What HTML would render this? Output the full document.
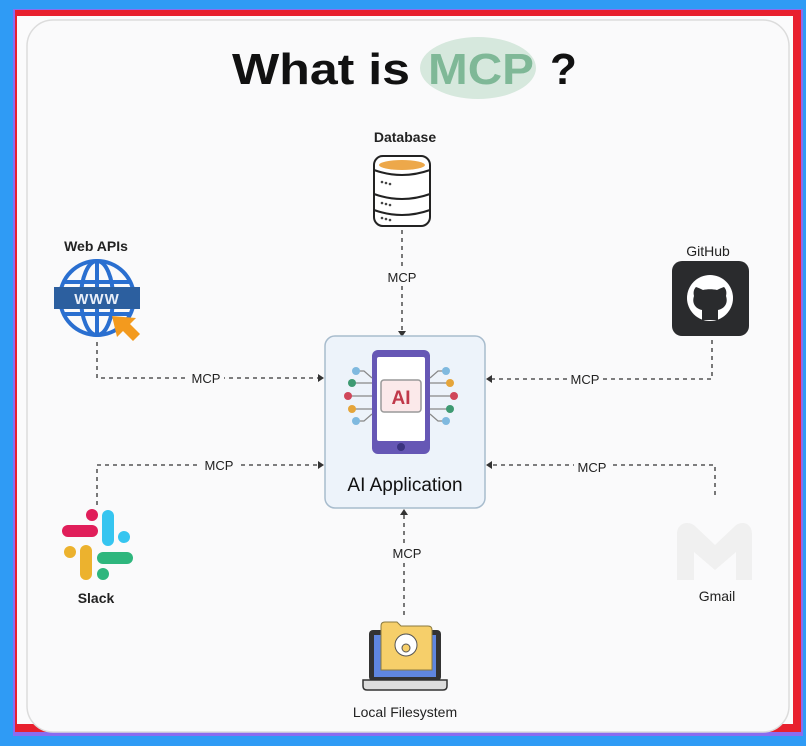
<!DOCTYPE html>
<html><head><meta charset="utf-8"><style>
html,body{margin:0;padding:0;width:806px;height:746px;overflow:hidden;background:#2f9bf5}
svg{display:block}
text{font-family:"Comic Sans MS","Liberation Sans",sans-serif}
</style></head><body>
<svg width="806" height="746" viewBox="0 0 806 746" xmlns="http://www.w3.org/2000/svg">
<rect x="0" y="0" width="806" height="746" fill="#2f9bf5"/>
<rect x="13" y="9" width="790" height="727" fill="#8a6cf0"/>
<rect x="15" y="10" width="786" height="722" fill="#e8202e"/>
<rect x="17" y="16" width="776" height="708" fill="#fbfbfc"/>
<rect x="27" y="20" width="762" height="712" rx="26" fill="#fafafb" stroke="#dcdcdc" stroke-width="1.5"/>
<!-- title -->
<ellipse cx="478" cy="68" rx="58" ry="31" fill="#d6e8dd"/>
<text x="232" y="84" font-size="44" font-weight="bold" fill="#111" textLength="178" lengthAdjust="spacingAndGlyphs">What is</text>
<text x="428" y="84" font-size="44" font-weight="bold" fill="#7fb897" textLength="106" lengthAdjust="spacingAndGlyphs">MCP</text>
<text x="550" y="84" font-size="44" font-weight="bold" fill="#111">?</text>
<!-- connectors -->
<g stroke="#333" stroke-width="1.3" stroke-dasharray="4,4" fill="none">
<path d="M402 230 V333"/>
<path d="M97 342 V378 H320"/>
<path d="M712 340 V379 H490"/>
<path d="M97 505 V465 H320"/>
<path d="M715 495 V465 H490"/>
<path d="M404 615 V513"/>
</g>
<g fill="#333">
<path d="M398 331 L406 331 L402 337Z"/>
<path d="M318 374 L318 382 L324 378Z"/>
<path d="M492 375 L492 383 L486 379Z"/>
<path d="M318 461 L318 469 L324 465Z"/>
<path d="M492 461 L492 469 L486 465Z"/>
<path d="M400 515 L408 515 L404 509Z"/>
</g>
<g font-size="13" fill="#222" text-anchor="middle">
<rect x="384" y="268" width="36" height="16" fill="#fafafb"/><text x="402" y="282">MCP</text>
<rect x="188" y="371" width="36" height="16" fill="#fafafb"/><text x="206" y="383">MCP</text>
<rect x="567" y="372" width="36" height="16" fill="#fafafb"/><text x="585" y="384">MCP</text>
<rect x="201" y="458" width="36" height="16" fill="#fafafb"/><text x="219" y="470">MCP</text>
<rect x="574" y="458" width="36" height="16" fill="#fafafb"/><text x="592" y="472">MCP</text>
<rect x="389" y="545" width="36" height="16" fill="#fafafb"/><text x="407" y="558">MCP</text>
</g>
<!-- center box -->
<rect x="325" y="336" width="160" height="172" rx="10" fill="#edf3fa" stroke="#a8bccd" stroke-width="1.5"/>
<rect x="372" y="350" width="58" height="104" rx="6" fill="#6657b5"/>
<rect x="377" y="357" width="48" height="84" rx="2" fill="#fff"/>
<circle cx="401" cy="447" r="4" fill="#3b3380"/>
<rect x="381" y="380" width="40" height="32" rx="3" fill="#fbe9ea" stroke="#999" stroke-width="1.5"/>
<text x="401" y="404" font-size="19" font-weight="bold" fill="#c0394a" text-anchor="middle">AI</text>
<g stroke="#888" stroke-width="1.2" fill="none">
<path d="M356 371 H364 L372 378"/><path d="M352 383 H372"/><path d="M348 396 H372"/><path d="M352 409 H372"/><path d="M356 421 H364 L372 414"/>
<path d="M446 371 H438 L430 378"/><path d="M450 383 H430"/><path d="M454 396 H430"/><path d="M450 409 H430"/><path d="M446 421 H438 L430 414"/>
</g>
<circle cx="356" cy="371" r="4" fill="#7fb9df"/><circle cx="352" cy="383" r="4" fill="#3e9a72"/><circle cx="348" cy="396" r="4" fill="#d0475a"/><circle cx="352" cy="409" r="4" fill="#e5a53a"/><circle cx="356" cy="421" r="4" fill="#7fb9df"/>
<circle cx="446" cy="371" r="4" fill="#7fb9df"/><circle cx="450" cy="383" r="4" fill="#e5a53a"/><circle cx="454" cy="396" r="4" fill="#d0475a"/><circle cx="450" cy="409" r="4" fill="#3e9a72"/><circle cx="446" cy="421" r="4" fill="#7fb9df"/>
<text x="405" y="491" font-size="19" fill="#111" text-anchor="middle">AI Application</text>
<!-- database -->
<text x="405" y="142" font-size="14" font-weight="bold" fill="#222" text-anchor="middle">Database</text>
<rect x="374" y="156" width="56" height="70" rx="9" fill="#fff" stroke="#222" stroke-width="2"/>
<ellipse cx="402" cy="165" rx="23" ry="5" fill="#eda84a"/>
<g stroke="#222" stroke-width="2" fill="none">
<path d="M374 170 Q402 180 430 170"/>
<path d="M374 194 Q402 204 430 194"/>
<path d="M374 210 Q402 220 430 210"/>
</g>
<g fill="#444"><circle cx="382" cy="182" r="1.3"/><circle cx="386" cy="183" r="1.3"/><circle cx="390" cy="184" r="1.3"/><circle cx="382" cy="203" r="1.3"/><circle cx="386" cy="204" r="1.3"/><circle cx="390" cy="205" r="1.3"/><circle cx="382" cy="218" r="1.3"/><circle cx="386" cy="219" r="1.3"/><circle cx="390" cy="220" r="1.3"/></g>
<!-- web apis -->
<text x="96" y="251" font-size="14" font-weight="bold" fill="#222" text-anchor="middle">Web APIs</text>
<g stroke="#2a6fd0" stroke-width="4" fill="none">
<circle cx="97" cy="298" r="37"/><ellipse cx="97" cy="298" rx="16" ry="37"/><path d="M97 261 V335 M63 282 H131 M63 314 H131"/>
</g>
<rect x="54" y="287" width="86" height="22" fill="#2c5f9f"/>
<text x="97" y="304" font-size="15" font-weight="bold" fill="#e8eef8" text-anchor="middle" letter-spacing="1">WWW</text>
<path d="M112 316 L136 318 L130 324 L140 334 L133 341 L123 331 L117 337Z" fill="#f39a1e"/>
<!-- github -->
<text x="708" y="256" font-size="14" fill="#222" text-anchor="middle">GitHub</text>
<rect x="672" y="261" width="77" height="75" rx="10" fill="#2a2b2d"/>
<circle cx="710" cy="298" r="23" fill="#fff"/>
<path d="M702 320 V310 C694 308 692 302 694 296 C693 292 694 289 696 287 C699 288 701 289 703 290 C707 289 713 289 717 290 C719 289 721 288 724 287 C726 289 727 292 726 296 C728 302 726 308 718 310 V320Z" fill="#2a2b2d"/>
<!-- slack -->
<g stroke-linecap="round" stroke-width="12" fill="none">
<path d="M68 531 H92" stroke="#e01e5a"/><path d="M108 516 V540" stroke="#36c5f0"/>
<path d="M103 558 H127" stroke="#2eb67d"/><path d="M86 551 V574" stroke="#ecb22e"/>
</g>
<circle cx="92" cy="515" r="6" fill="#e01e5a"/><circle cx="124" cy="537" r="6" fill="#36c5f0"/>
<circle cx="103" cy="574" r="6" fill="#2eb67d"/><circle cx="70" cy="552" r="6" fill="#ecb22e"/>
<text x="96" y="603" font-size="14" font-weight="bold" fill="#222" text-anchor="middle">Slack</text>
<!-- gmail -->
<path d="M677 580 V534 C677 522 690 520 696 527 L715 545 L734 527 C740 520 752 522 752 534 V580 H736 V552 L715 570 L694 552 V580Z" fill="#f0f0f0"/>
<text x="717" y="601" font-size="14" fill="#222" text-anchor="middle">Gmail</text>
<!-- filesystem -->
<rect x="369" y="630" width="72" height="51" rx="4" fill="#333"/>
<rect x="374" y="635" width="62" height="42" fill="#5f86e0"/>
<path d="M363 680 H447 V686 Q447 690 443 690 H367 Q363 690 363 686Z" fill="#ddd" stroke="#333" stroke-width="1.5"/>
<path d="M381 670 V626 Q381 622 385 622 H397 L401 626 H428 Q432 626 432 630 V670Z" fill="#f6cf6a" stroke="#8a7a40" stroke-width="1"/>
<circle cx="406" cy="645" r="11" fill="#fff" stroke="#555" stroke-width="1"/>
<circle cx="406" cy="648" r="4" fill="#f6cf6a" stroke="#555"/>
<text x="405" y="717" font-size="14" fill="#222" text-anchor="middle">Local Filesystem</text>
</svg>
</body></html>
